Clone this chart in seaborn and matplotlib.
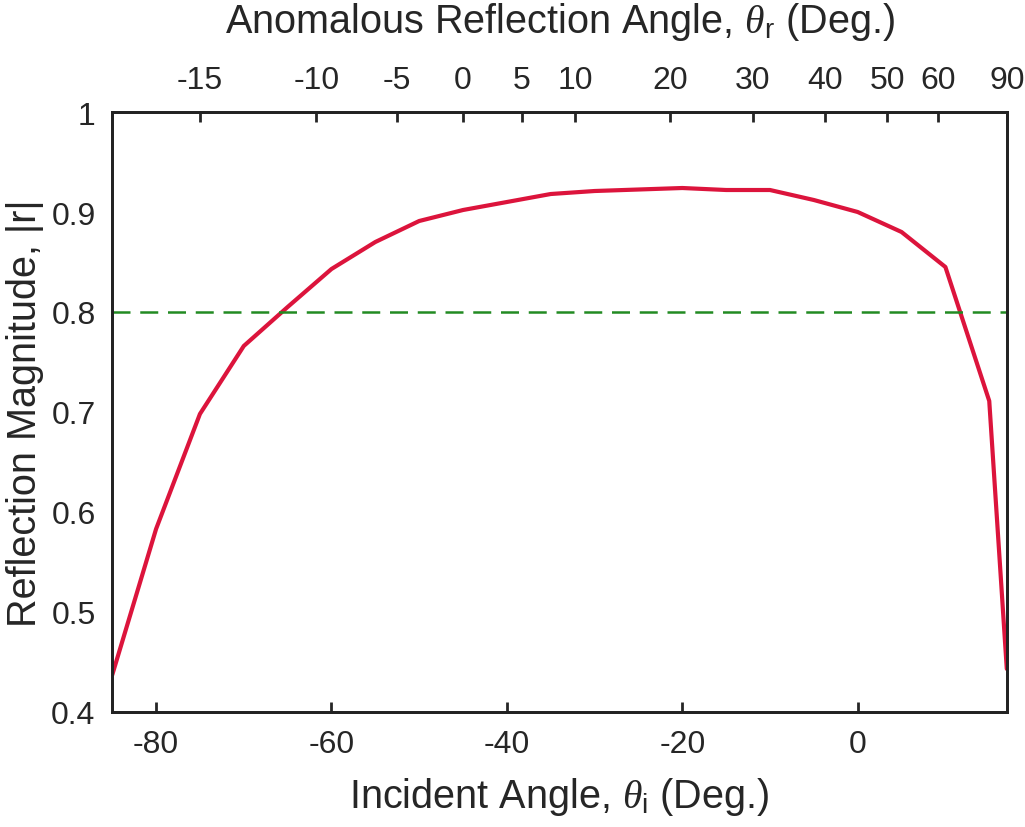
import numpy as np
import pandas as pd
import seaborn as sns
from matplotlib import pyplot as plt

sns.set_style('white')
plt.rcParams['font.family'] = ['Liberation Sans', 'DejaVu Sans']
plt.rcParams['mathtext.fontset'] = 'custom'
plt.rcParams['mathtext.rm'] = 'Liberation Sans'
plt.rcParams['mathtext.it'] = 'Liberation Serif:italic'
plt.rcParams['axes.unicode_minus'] = False

# incident angle (deg) and reflection magnitude
theta_i = [-85, -80, -75, -70, -65, -60, -55, -50, -45, -40, -35, -30, -25,
           -20, -15, -10, -5, 0, 5, 10, 15, 17]
refl_mag = [0.437, 0.583, 0.698, 0.766, 0.805, 0.843, 0.870, 0.891, 0.902, 0.910,
            0.918, 0.921, 0.9225, 0.924, 0.922, 0.922, 0.912, 0.900, 0.880, 0.845,
            0.711, 0.443]
threshold = 0.8

bottom_ticks = [-80, -60, -40, -20, 0]
y_ticks = [0.4, 0.5, 0.6, 0.7, 0.8, 0.9, 1.0]
y_labels = ['0.4', '0.5', '0.6', '0.7', '0.8', '0.9', '1']
theta_r_ticks = [-15, -10, -5, 0, 5, 10, 20, 30, 40, 50, 60, 90]

# design angle 45 deg: sin(theta_r) = sin(theta_i) + sin(45)
s0 = np.sin(np.deg2rad(45))
x_right = np.rad2deg(np.arcsin(1 - s0))

df = pd.DataFrame({'theta_i': theta_i, 'r': refl_mag})

txt = '#262626'
fig = plt.figure(figsize=(10.25, 8.28), dpi=100)
ax = fig.add_axes([0.1095, 0.139, 0.873, 0.7245])

sns.lineplot(data=df, x='theta_i', y='r', color='#DC143C', lw=3, ax=ax)
ax.axhline(threshold, color='#228B22', lw=1.8, ls=(0, (7.2, 3.9)))

ax.set_xlim(-85, x_right)
ax.set_ylim(0.4, 1.0)
ax.set_xticks(bottom_ticks)
ax.set_xticklabels([str(t) for t in bottom_ticks])
ax.set_yticks(y_ticks)
ax.set_yticklabels(y_labels)
ax.tick_params(direction='in', length=7, width=2, colors=txt, labelsize=23, pad=12,
               right=False, top=False)
ax.set_xlabel(r'Incident Angle, $\theta_{\rm i}$ (Deg.)', fontsize=28.5, color=txt, labelpad=12)
ax.set_ylabel(r'Reflection Magnitude, |r|', fontsize=28.5, color=txt, labelpad=5)

ax2 = ax.twiny()
ax2.set_xlim(ax.get_xlim())
pos = np.rad2deg(np.arcsin(np.clip(np.sin(np.deg2rad(theta_r_ticks)) - s0, -1, 1)))
ax2.set_xticks(pos)
ax2.set_xticklabels([str(t) for t in theta_r_ticks])
ax2.tick_params(direction='in', length=7, width=2, colors=txt, labelsize=23, pad=12)
ax2.set_xlabel(r'Anomalous Reflection Angle, $\theta_{\rm r}$ (Deg.)', fontsize=28.5,
               color=txt, labelpad=24)

for a in (ax, ax2):
    for sp in a.spines.values():
        sp.set_linewidth(2)
        sp.set_color('#222222')

fig.savefig('out.png', dpi=100)
